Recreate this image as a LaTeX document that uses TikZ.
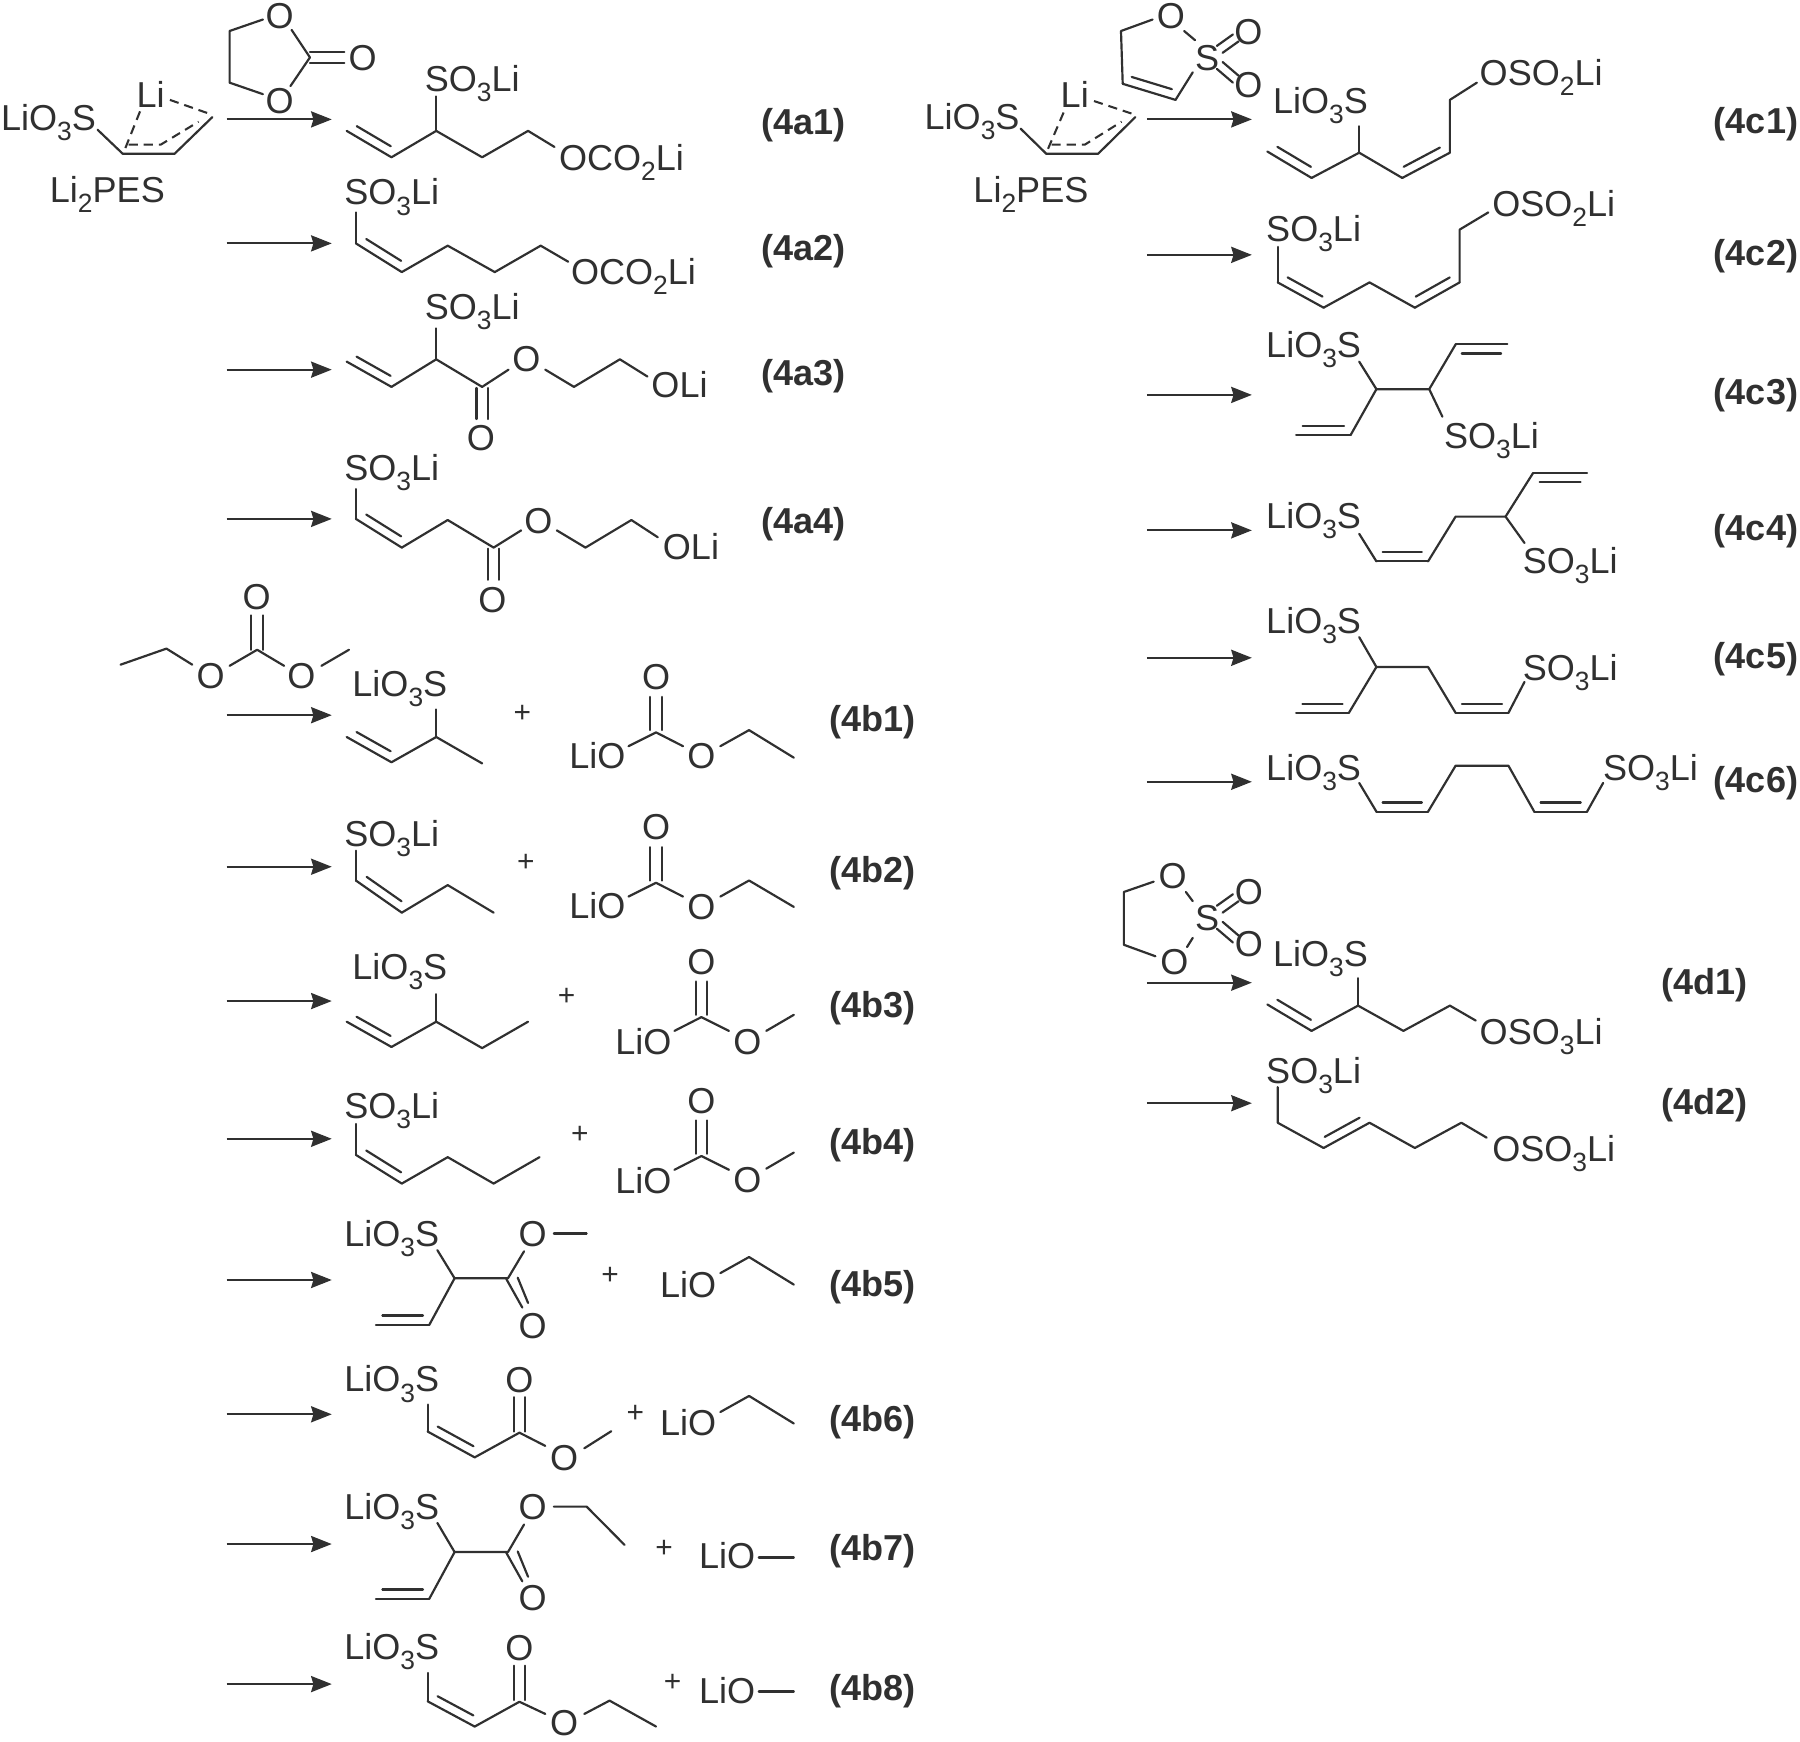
\documentclass[tikz,border=0pt]{standalone}
\usepackage{fontspec}
\setmainfont{Liberation Sans}
\usetikzlibrary{arrows.meta,calc}
\definecolor{inkc}{HTML}{303030}
\newcommand\sbs[1]{\raisebox{-0.28em}{\fontsize{11.5}{12}\selectfont #1}}
\newcommand\tx[4]{\node[atomtext,anchor=base west,yshift=-0.75pt] (#1) at (#2,#3) {#4};}
\newcommand\ato[3]{\node[atomtext,anchor=center,yshift=-0.4pt] (#1) at (#2,#3) {O};}
\newcommand\lab[4]{\node[labeltext,anchor=base west] (#1) at (#2,#3) {#4};}
\newcommand\plusm[3]{\node[atomtext,anchor=center,font=\fontsize{13}{13}\selectfont] (#1) at (#2,#3) {+};}
\newcommand\rxn[4]{\coordinate (#1s) at (#2,#4);\coordinate (#1e) at (#3,#4);\draw[rxnarrow] (#1s) -- (#1e);}
\newcommand\dblL[2]{\draw[bond] #1 -- #2;\draw[bond] ($#1!0.12!#2!4pt!90:#2$) -- ($#2!0.12!#1!4pt!-90:#1$);}
\newcommand\dblR[2]{\draw[bond] #1 -- #2;\draw[bond] ($#1!0.12!#2!4pt!-90:#2$) -- ($#2!0.12!#1!4pt!90:#1$);}
\newcommand\soLi{SO\sbs{3}Li}
\newcommand\liS{LiO\sbs{3}S}
\tikzset{
  atomtext/.style={inner sep=0pt,outer sep=0pt,text=inkc,font=\fontsize{15.7}{16}\selectfont},
  labeltext/.style={inner sep=0pt,outer sep=0pt,text=inkc,font=\fontsize{15.7}{16}\selectfont\bfseries},
  bond/.style={line width=.95pt,draw=inkc,line cap=round,line join=round},
  dbond/.style={line width=.9pt,draw=inkc,dash pattern=on 4pt off 2.6pt},
  rxnarrow/.style={line width=.95pt,draw=inkc,yshift=-0.4pt,-{Stealth[length=9pt,width=7pt,inset=1pt]}}
}
\begin{document}
\begin{tikzpicture}[x=0.5pt,y=-0.5pt]
\path[use as bounding box] (0,0) rectangle (1568,1517);
% ---------- reaction arrows
\rxn{ra1}{197.5}{289}{104}\rxn{ra2}{197.5}{289}{212}\rxn{ra3}{197.5}{289}{322}\rxn{ra4}{197.5}{289}{452}
\rxn{rb1}{197.5}{289}{623}\rxn{rb2}{197.5}{289}{755}\rxn{rb3}{197.5}{289}{872}\rxn{rb4}{197.5}{289}{992}
\rxn{rb5}{197.5}{289}{1115}\rxn{rb6}{197.5}{289}{1232}\rxn{rb7}{197.5}{289}{1345}\rxn{rb8}{197.5}{289}{1467}
\rxn{rc1}{999}{1090.5}{104}\rxn{rc2}{999}{1090.5}{222}\rxn{rc3}{999}{1090.5}{344}\rxn{rc4}{999}{1090.5}{462}
\rxn{rc5}{999}{1090.5}{573}\rxn{rc6}{999}{1090.5}{681}\rxn{rd1}{999}{1090.5}{856}\rxn{rd2}{999}{1090.5}{961}
% ---------- labels
\lab{la1}{663.5}{117}{(4a1)}\lab{la2}{663.5}{227}{(4a2)}\lab{la3}{663.5}{336}{(4a3)}\lab{la4}{663.5}{465}{(4a4)}
\lab{lb1}{722.5}{637}{(4b1)}\lab{lb2}{722.5}{769}{(4b2)}\lab{lb3}{722.5}{886}{(4b3)}\lab{lb4}{722.5}{1006}{(4b4)}
\lab{lb5}{722.5}{1129}{(4b5)}\lab{lb6}{722.5}{1247}{(4b6)}\lab{lb7}{722.5}{1359}{(4b7)}\lab{lb8}{722.5}{1481}{(4b8)}
\lab{lc1}{1493}{116}{(4c1)}\lab{lc2}{1493}{231}{(4c2)}\lab{lc3}{1493}{352}{(4c3)}\lab{lc4}{1493}{471}{(4c4)}
\lab{lc5}{1493}{582}{(4c5)}\lab{lc6}{1493}{690}{(4c6)}\lab{ld1}{1447.5}{866}{(4d1)}\lab{ld2}{1447.5}{971}{(4d2)}
% ---------- Li2PES left
\tx{pesLs}{1}{112}{\liS}\tx{pesLl}{119}{92}{Li}\tx{pesLn}{43.5}{175}{Li\sbs{2}PES}
\draw[bond] (85,113) -- (107,134) -- (152,134) -- (185,102);
\draw[dbond] (112,126) -- (140,126) -- (173,106);
\draw[dbond] (122,97) -- (108,132);
\draw[dbond] (148,87) -- (185,100);
% ---------- Li2PES right
\tx{pesRs}{805.5}{111}{\liS}\tx{pesRl}{924}{92}{Li}\tx{pesRn}{848}{175}{Li\sbs{2}PES}
\draw[bond] (889,112) -- (911.5,134) -- (956.5,134) -- (989,102);
\draw[dbond] (916,126) -- (945,126) -- (977,106);
\draw[dbond] (926.5,98) -- (911.5,133);
\draw[dbond] (953,88) -- (989,100);
% ---------- EC
\ato{ecO1}{243.5}{13}\ato{ecO2}{316}{50}\ato{ecO3}{243.5}{87}
\draw[bond] (254,26) -- (270,50) -- (253,75);
\draw[bond] (229,17) -- (200,27) -- (200,72) -- (229,82);
\draw[bond] (270,45) -- (300,45) (270,55) -- (300,55);
% ---------- 4a1
\tx{a1s}{370}{78}{\soLi}\tx{a1o}{487}{147}{OCO\sbs{2}Li}
\dblL{(302,114)}{(341,137)}
\draw[bond] (341,137) -- (380,114) -- (420,137) -- (460,114) -- (483,128);
\draw[bond] (380,114) -- (380,84);
% ---------- 4a2
\tx{a2s}{300}{177}{\soLi}\tx{a2o}{497.5}{246}{OCO\sbs{2}Li}
\draw[bond] (310,185) -- (310,212);
\dblL{(310,212)}{(350,237)}
\draw[bond] (350,237) -- (390,214) -- (431,237) -- (471,214) -- (495,228);
% ---------- 4a3
\tx{a3s}{370}{277}{\soLi}\tx{a3o}{567.5}{345}{OLi}\ato{a3e}{458.5}{312}\ato{a3k}{419}{381}
\draw[bond] (380,286) -- (380,313);
\dblL{(302,315)}{(341,337)}
\draw[bond] (341,337) -- (380,313) -- (420,337) -- (443,322);
\draw[bond] (475,322) -- (500,337) -- (540,313) -- (564,328);
\draw[bond] (415,338) -- (415,365) (425,338) -- (425,365);
% ---------- 4a4
\tx{a4s}{300}{417}{\soLi}\tx{a4o}{577.5}{486}{OLi}\ato{a4e}{469}{453}\ato{a4k}{429}{522}
\draw[bond] (310,426) -- (310,452);
\dblL{(310,452)}{(350,477)}
\draw[bond] (350,477) -- (390,453) -- (430,477) -- (454,462);
\draw[bond] (485,462) -- (510,477) -- (550,453) -- (573,468);
\draw[bond] (425,478) -- (425,505) (435,478) -- (435,505);
% ---------- EMC
\ato{emO1}{223.5}{519}\ato{emO2}{183.5}{588}\ato{emO3}{262.5}{588}
\draw[bond] (219,536) -- (219,566) (229,536) -- (229,566);
\draw[bond] (200,580) -- (224,566) -- (247.5,580);
\draw[bond] (167.5,579) -- (145,565) -- (105,579);
\draw[bond] (280,580) -- (304,566);
% ---------- 4b1
\tx{b1s}{307}{605}{\liS}\plusm{b1p}{455}{622}
\draw[bond] (380,618) -- (380,642);
\dblL{(302,642)}{(341,664)}
\draw[bond] (341,664) -- (380,642) -- (420,665);
\tx{b1l}{496}{668}{LiO}\ato{b1k}{571.5}{589}\ato{b1e}{611}{658}
\draw[bond] (566.5,607) -- (566.5,636) (576.5,607) -- (576.5,636);
\draw[bond] (547.5,650) -- (571.5,638) -- (595,650);
\draw[bond] (627.5,650) -- (652.5,636) -- (691.5,660);
% ---------- 4b2
\tx{b2s}{300}{736}{\soLi}\plusm{b2p}{458}{752}
\draw[bond] (310,741) -- (310,767);
\dblL{(310,767)}{(350,795)}
\draw[bond] (350,795) -- (390,771) -- (430,795);
\tx{b2l}{496}{799}{LiO}\ato{b2k}{571.5}{720}\ato{b2e}{611}{789}
\draw[bond] (566.5,738) -- (566.5,767) (576.5,738) -- (576.5,767);
\draw[bond] (547.5,781) -- (571.5,769) -- (595,781);
\draw[bond] (627.5,781) -- (652.5,767) -- (691.5,790);
% ---------- 4b3
\tx{b3s}{307}{852}{\liS}\plusm{b3p}{493.5}{868}
\draw[bond] (380,866) -- (380,890);
\dblL{(302,890)}{(341,912)}
\draw[bond] (341,912) -- (380,890) -- (420,913) -- (460,890);
\tx{b3l}{536}{917}{LiO}\ato{b3k}{611}{837}\ato{b3e}{651}{907}
\draw[bond] (606,855) -- (606,884) (616,855) -- (616,884);
\draw[bond] (587.5,898) -- (611,886) -- (635,898);
\draw[bond] (667.5,898) -- (691.5,884);
% ---------- 4b4
\tx{b4s}{300}{973}{\soLi}\plusm{b4p}{505}{989}
\draw[bond] (310,979) -- (310,1006);
\dblL{(310,1006)}{(350,1031)}
\draw[bond] (350,1031) -- (390,1008) -- (430,1031) -- (470,1008);
\tx{b4l}{536}{1038}{LiO}\ato{b4k}{611}{958}\ato{b4e}{651}{1027}
\draw[bond] (606,976) -- (606,1005) (616,976) -- (616,1005);
\draw[bond] (587.5,1019) -- (611,1007) -- (635,1019);
\draw[bond] (667.5,1018) -- (691.5,1004);
% ---------- 4b5
\tx{b5s}{300}{1084}{\liS}\ato{b5e}{464}{1074.5}\ato{b5k}{464}{1154}\plusm{b5p}{531.5}{1111}
\draw[bond] (381,1089) -- (396,1113.5) -- (442.5,1113.5) -- (456.5,1090);
\draw[bond] (482.5,1074.5) -- (511,1074.5);
\draw[bond] (441,1114) -- (455,1139) (451,1113) -- (460,1135);
\draw[bond] (396,1113.5) -- (374,1154);
\dblR{(374,1154)}{(327.5,1154)}
\tx{b5l}{575}{1128.4}{LiO}
\draw[bond] (627.5,1109) -- (652.5,1095) -- (691.5,1119);
% ---------- 4b6
\tx{b6s}{300}{1211}{\liS}\ato{b6k}{452.5}{1201}\ato{b6e}{491.5}{1269.5}\plusm{b6p}{553.5}{1231.5}
\draw[bond] (372.5,1223.5) -- (372.5,1247);
\dblL{(372.5,1247)}{(413.5,1269.5)}
\draw[bond] (413.5,1269.5) -- (452.5,1248) -- (475,1259.5);
\draw[bond] (447.5,1217) -- (447.5,1247) (457.5,1217) -- (457.5,1247);
\draw[bond] (509,1261.6) -- (532.5,1246.7);
\tx{b6l}{575}{1249}{LiO}
\draw[bond] (627.5,1230) -- (652.5,1216) -- (691.5,1240);
% ---------- 4b7
\tx{b7s}{300}{1322}{\liS}\ato{b7e}{464}{1312.4}\ato{b7k}{464}{1391}\plusm{b7p}{578.5}{1349.5}
\draw[bond] (381,1326.6) -- (396,1352) -- (442.5,1352) -- (456.5,1328);
\draw[bond] (482.5,1312.4) -- (511,1312.4) -- (544,1345.7);
\draw[bond] (441,1352.5) -- (455,1377.5) (451,1351.5) -- (460,1373.5);
\draw[bond] (396,1352) -- (374,1392.6);
\dblR{(374,1392.6)}{(327.5,1392.6)}
\tx{b7l}{609}{1365}{LiO}
\draw[bond] (661,1356.8) -- (691.5,1356.8);
% ---------- 4b8
\tx{b8s}{300}{1444}{\liS}\ato{b8k}{452.5}{1434.5}\ato{b8e}{491.5}{1500.5}\plusm{b8p}{586}{1466}
\draw[bond] (372.5,1457.3) -- (372.5,1482);
\dblL{(372.5,1482)}{(413.5,1504)}
\draw[bond] (413.5,1504) -- (452.5,1482.4) -- (475,1493);
\draw[bond] (447.5,1451) -- (447.5,1481) (457.5,1451) -- (457.5,1481);
\draw[bond] (509,1493) -- (531,1481.4) -- (571.5,1504);
\tx{b8l}{609}{1482}{LiO}
\draw[bond] (661,1473.5) -- (691.5,1473.5);
% ---------- sultone PS
\ato{psO1}{1020}{13}\ato{psO2}{1087.5}{27}\ato{psO3}{1087.5}{73}
\tx{psS}{1041}{60}{S}
\draw[bond] (1031.5,27) -- (1041,35);
\draw[bond] (1039,63) -- (1024,87);
\dblR{(1024,87)}{(978,73)}
\draw[bond] (978,73) -- (976.5,27) -- (1004,17);
\draw[bond] (1060,40) -- (1074,30) (1065,46) -- (1079,36);
\draw[bond] (1060,60) -- (1074,72) (1065,54) -- (1079,66);
% ---------- 4c1
\tx{c1s}{1109}{97}{\liS}\tx{c1o}{1289}{73}{OSO\sbs{2}Li}
\draw[bond] (1184,110) -- (1184,133);
\dblL{(1104,132)}{(1142.5,155)}
\draw[bond] (1142.5,155) -- (1184,133) -- (1221.5,155);
\dblL{(1221.5,155)}{(1263,133)}
\draw[bond] (1263,133) -- (1263,87) -- (1286.5,72);
% ---------- 4c2
\tx{c2s}{1103}{209}{\soLi}\tx{c2o}{1300}{187}{OSO\sbs{2}Li}
\draw[bond] (1113,215) -- (1113,246);
\dblL{(1113,246)}{(1153,268)}
\draw[bond] (1153,268) -- (1193,246) -- (1232.5,268);
\dblL{(1232.5,268)}{(1271.5,246)}
\draw[bond] (1271.5,246) -- (1271.5,200) -- (1296.5,185);
% ---------- 4c3
\tx{c3s}{1103}{310}{\liS}\tx{c3o}{1258}{389}{\soLi}
\draw[bond] (1184,315) -- (1199,339) -- (1245,339) -- (1268,300);
\dblR{(1268,300)}{(1313,300)}
\draw[bond] (1245,339) -- (1256.5,363);
\draw[bond] (1199,339) -- (1176.5,379);
\dblR{(1176.5,379)}{(1129,379)}
% ---------- 4c4
\tx{c4s}{1103}{459}{\liS}\tx{c4o}{1326.5}{498}{\soLi}
\draw[bond] (1184,465) -- (1199,489);
\dblL{(1199,489)}{(1244,489)}
\draw[bond] (1244,489) -- (1268,450) -- (1311.5,450) -- (1335.5,412);
\dblR{(1335.5,412)}{(1382.5,412)}
\draw[bond] (1311.5,450) -- (1328,473);
% ---------- 4c5
\tx{c5s}{1103}{550}{\liS}\tx{c5o}{1326.5}{591}{\soLi}
\draw[bond] (1184,555) -- (1199,581) -- (1244,581) -- (1268,621);
\dblL{(1268,621)}{(1314,621)}
\draw[bond] (1314,621) -- (1328,594);
\draw[bond] (1199,581) -- (1175,621);
\dblR{(1175,621)}{(1129,621)}
% ---------- 4c6
\tx{c6s}{1103}{678}{\liS}\tx{c6o}{1396.5}{678}{\soLi}
\draw[bond] (1184,682) -- (1199,707);
\dblL{(1199,707)}{(1244,707)}
\draw[bond] (1244,707) -- (1268,667) -- (1314,667) -- (1336.5,707);
\dblL{(1336.5,707)}{(1382.5,707)}
\draw[bond] (1382.5,707) -- (1396.5,682);
% ---------- ES
\ato{esO1}{1021.5}{762}\ato{esO2}{1088}{776}\ato{esO3}{1088}{822}\ato{esO4}{1023}{837}
\tx{esS}{1041}{809}{S}
\draw[bond] (1033,777) -- (1039,785);
\draw[bond] (1039,817) -- (1034,825);
\draw[bond] (1006.5,833) -- (979,823) -- (979,777) -- (1005,768);
\draw[bond] (1060,789) -- (1074,779) (1065,795) -- (1079,785);
\draw[bond] (1060,809) -- (1074,821) (1065,803) -- (1079,815);
% ---------- 4d1
\tx{d1s}{1109}{840}{\liS}\tx{d1o}{1289}{908}{OSO\sbs{3}Li}
\draw[bond] (1183,852) -- (1183,876);
\dblL{(1104,875)}{(1142.5,898)}
\draw[bond] (1142.5,898) -- (1183,876) -- (1222.5,898) -- (1263,876) -- (1285.5,889);
% ---------- 4d2
\tx{d2s}{1103}{942}{\soLi}\tx{d2o}{1300}{1010}{OSO\sbs{3}Li}
\draw[bond] (1113,947) -- (1113,978) -- (1153,1000);
\dblL{(1153,1000)}{(1193,978)}
\draw[bond] (1193,978) -- (1232.5,1000) -- (1273,978) -- (1295,991);
\end{tikzpicture}
\end{document}
